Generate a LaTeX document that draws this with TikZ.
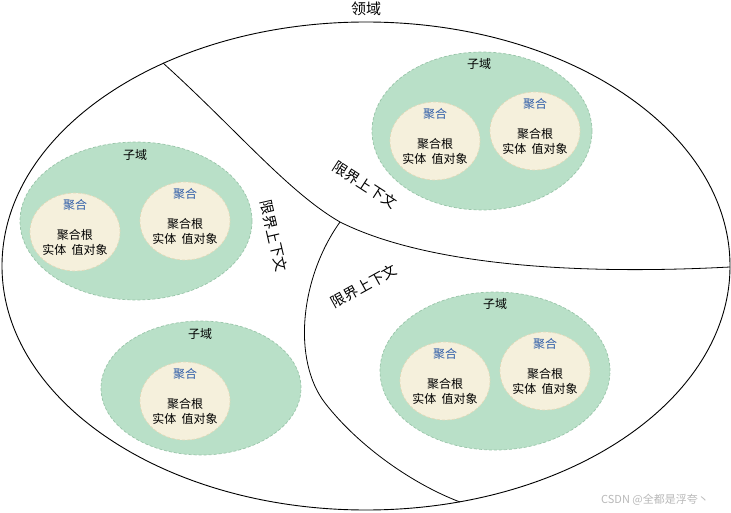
\documentclass[tikz,border=0pt]{standalone}
\usepackage{fontspec}
\setmainfont{Noto Sans CJK SC}
\usetikzlibrary{shapes.geometric}
\definecolor{subgreen}{HTML}{B9E0C8}
\definecolor{subborder}{HTML}{98C4A8}
\definecolor{aggfill}{HTML}{F5F0DC}
\definecolor{aggborder}{HTML}{E2D9B8}
\definecolor{aggblue}{HTML}{2D5CA8}
\tikzset{
  domainshape/.style={ellipse, draw=black, line width=0.9pt, inner sep=0pt},
  subdom/.style={ellipse, fill=subgreen, draw=subborder, dash pattern=on 3pt off 2pt, line width=0.7pt, inner sep=0pt, minimum width=#1},
  agg/.style={ellipse, fill=aggfill, draw=aggborder, dash pattern=on 3pt off 2pt, line width=0.7pt, inner sep=0pt, minimum width=90pt, minimum height=78pt},
  aggtitle/.style={text=aggblue, font=\fontsize{12}{14}\selectfont, inner sep=0pt},
  aggbody/.style={align=center, font=\fontsize{12}{15}\selectfont, inner sep=0pt},
  subtitle/.style={font=\fontsize{12}{14}\selectfont, inner sep=0pt},
  bclabel/.style={font=\fontsize{14.5}{16}\selectfont, inner sep=0pt},
  divider/.style={draw=black, line width=0.8pt},
}
\newcommand{\aggregate}[3]{%
  \node[agg] (#1) at (#2,#3) {};
  \node[aggtitle] (#1t) at (#2,#3-27) {聚合};
  \node[aggbody] (#1b) at (#2,#3+10) {聚合根\\实体\ \ 值对象};
}
\begin{document}
\begin{tikzpicture}[x=1pt,y=-1pt]
\useasboundingbox (0,0) rectangle (731,513);
% domain
\node[domainshape, minimum width=728pt, minimum height=488pt] (domain) at (366,266) {};
\node[font=\fontsize{15}{16}\selectfont, inner sep=0pt] (domtitle) at (366,9) {领域};
% dividers
\coordinate (p1) at (163,63);
\coordinate (pj) at (340,222);
\coordinate (p2) at (730,267);
\coordinate (p3) at (460,502);
\draw[divider] (p1) .. controls (235,128) and (288,192) .. (pj)
  .. controls (420,262) and (560,276) .. (p2);
\draw[divider] (pj) .. controls (300,278) and (292,360) .. (325,403)
  .. controls (360,448) and (415,485) .. (p3);
% bounded context labels
\node[bclabel, rotate=-33] (bc1) at (365,185) {限界上下文};
\node[bclabel, rotate=-77] (bc2) at (274,236) {限界上下文};
\node[bclabel, rotate=29] (bc3) at (364,286) {限界上下文};
% subdomain A
\node[subdom=232pt, minimum height=158pt] (sA) at (136,221) {};
\node[subtitle] (sAt) at (135,155) {子域};
\aggregate{aA1}{75}{232}
\aggregate{aA2}{185}{221}
% subdomain B
\node[subdom=200pt, minimum height=134pt] (sB) at (201,388) {};
\node[subtitle] (sBt) at (200,334) {子域};
\aggregate{aB1}{185}{401}
% subdomain C
\node[subdom=220pt, minimum height=158pt] (sC) at (482,131) {};
\node[subtitle] (sCt) at (479,64) {子域};
\aggregate{aC1}{435}{141}
\aggregate{aC2}{535}{131}
% subdomain D
\node[subdom=230pt, minimum height=158pt] (sD) at (495,371) {};
\node[subtitle] (sDt) at (495,304) {子域};
\aggregate{aD1}{445}{381}
\aggregate{aD2}{545}{371}
% watermark
\node[text=black!28, font=\fontsize{11}{12}\selectfont, inner sep=0pt] (wm) at (655,500) {CSDN @全都是浮夸丶};
\end{tikzpicture}
\end{document}
